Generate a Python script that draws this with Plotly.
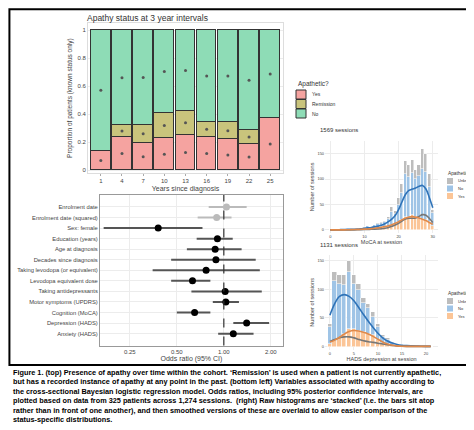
import numpy as np
import plotly.graph_objects as go

# --- top: apathy status at 3 year intervals
years = [1, 4, 7, 10, 13, 16, 19, 22, 25]
prop_yes = [0.14, 0.24, 0.195, 0.23, 0.255, 0.24, 0.22, 0.19, 0.375]
prop_rem = [0.0, 0.08, 0.13, 0.18, 0.17, 0.105, 0.125, 0.095, 0.0]
prop_no = [1 - a - b for a, b in zip(prop_yes, prop_rem)]
bar_status = ["Yes", "Remission", "No"]

# --- bottom left: odds ratios
variables = ["Enrolment date", "Enrolment date (squared)", "Sex: female", "Education (years)",
             "Age at diagnosis", "Decades since diagnosis", "Taking levodopa (or equivalent)",
             "Levodopa equivalent dose", "Taking antidepressants", "Motor symptoms (UPDRS)",
             "Cognition (MoCA)", "Depression (HADS)", "Anxiety (HADS)"]
or_mid = [1.04, 0.90, 0.38, 0.91, 0.88, 0.89, 0.77, 0.63, 1.02, 1.03, 0.65, 1.40, 1.15]
or_lo = [0.80, 0.68, 0.17, 0.67, 0.58, 0.46, 0.35, 0.46, 0.62, 0.85, 0.50, 1.15, 0.92]
or_hi = [1.40, 1.12, 0.73, 1.14, 1.30, 1.60, 1.70, 0.82, 1.75, 1.25, 0.82, 1.95, 1.55]
is_nuisance = [True, True] + [False] * 11

# --- right: histograms
moca = list(range(0, 31))
moca_yes = [0, 0, 0, 0, 0, 0, 0, 1, 1, 1, 1, 2, 2, 3, 4, 5, 6, 8, 10, 12, 15, 20, 25, 25, 30,
            25, 22, 22, 20, 15, 8]
moca_no = [0, 0, 0, 0, 1, 1, 1, 1, 1, 2, 3, 5, 3, 6, 8, 8, 10, 14, 25, 20, 35, 52, 85, 80, 82,
           75, 85, 98, 95, 70, 25]
moca_unk = [0, 0, 0, 0, 0, 0, 0, 0, 0, 0, 1, 1, 1, 1, 2, 2, 2, 3, 10, 6, 12, 18, 25, 23, 25,
            18, 21, 40, 35, 25, 7]
hads = list(range(0, 22))
hads_yes = [5, 10, 15, 22, 30, 30, 28, 25, 22, 20, 12, 6, 3, 1, 1, 0, 0, 0, 0, 0, 0, 0]
hads_no = [30, 105, 95, 85, 100, 80, 70, 52, 45, 32, 22, 11, 9, 5, 2, 2, 1, 1, 1, 0, 0, 0]
hads_unk = [5, 15, 15, 18, 20, 15, 12, 8, 8, 8, 6, 3, 3, 2, 0, 0, 0, 0, 0, 0, 0, 0]
hist_status = ["Unknown", "No", "Yes"]

caption_lines = [
    "Figure 1. (top) Presence of apathy over time within the cohort. ‘Remission’ is used when a patient is not currently apathetic,",
    "but has a recorded instance of apathy at any point in the past. (bottom left) Variables associated with apathy according to",
    "the cross-sectional Bayesian logistic regression model. Odds ratios, including 95% posterior confidence intervals, are",
    "plotted based on data from 325 patients across 1,274 sessions.  (right) Raw histograms are ‘stacked’ (i.e. the bars sit atop",
    "rather than in front of one another), and then smoothed versions of these are overlaid to allow easier comparison of the",
    "status-specific distributions.",
]

B_COL = {"Yes": "#f5a3a0", "Remission": "#c9c47c", "No": "#8edcb6"}
H_COL = {"Unknown": "#bdbdbd", "No": "#9fc4e6", "Yes": "#fbc597"}
TXT = "#444444"


def smooth(v, s=1.3):
    v = np.array(v, dtype=float)
    k = np.arange(-4, 5)
    w = np.exp(-0.5 * (k / s) ** 2)
    w /= w.sum()
    return np.convolve(np.pad(v, 4, mode="edge"), w, mode="valid")


def P(px, py):
    return px / 474, 1 - py / 430


fig = go.Figure()

for name, vals in zip(bar_status, (prop_yes, prop_rem, prop_no)):
    fig.add_bar(x=years, y=vals, name=name, marker=dict(color=B_COL[name], line=dict(color="#333333", width=1.2)),
                width=2.8, xaxis="x", yaxis="y", showlegend=False)

# dots at the middle of each segment
dx, dy = [], []
for i, yr in enumerate(years):
    base = 0
    for v in (prop_yes[i], prop_rem[i], prop_no[i]):
        if v > 0:
            dx.append(yr)
            dy.append(base + v / 2)
        base += v
fig.add_scatter(x=dx, y=dy, mode="markers", marker=dict(color="#555555", size=3),
                showlegend=False, xaxis="x", yaxis="y")

# forest plot
for i, var in enumerate(variables):
    lc = "#bbbbbb" if is_nuisance[i] else "#555555"
    fig.add_scatter(x=[or_lo[i], or_hi[i]], y=[var, var], mode="lines", line=dict(color=lc, width=2),
                    showlegend=False, xaxis="x2", yaxis="y2")
fig.add_scatter(x=or_mid, y=variables, mode="markers",
                marker=dict(color=["#bbbbbb" if n else "black" for n in is_nuisance], size=7),
                showlegend=False, xaxis="x2", yaxis="y2")

# histograms
for (xs, ys, ax, ay) in [(moca, (moca_unk, moca_no, moca_yes), "x3", "y3"),
                         (hads, (hads_unk, hads_no, hads_yes), "x4", "y4")]:
    unk, no, yes = ys
    for name, vals in [("Yes", yes), ("No", no), ("Unknown", unk)]:
        fig.add_bar(x=xs, y=vals, name=name, marker=dict(color=H_COL[name], line=dict(color="white", width=0.5)),
                    width=0.9, xaxis=ax, yaxis=ay, showlegend=False)
    for vals, col in [(no, "#2f73b8"), (unk, "#777777"), (yes, "#e0894a")]:
        fig.add_scatter(x=xs, y=smooth(vals), mode="lines", line=dict(color=col, width=1.6, shape="spline"),
                        showlegend=False, xaxis=ax, yaxis=ay)

shapes = [
    dict(type="line", xref="x2", yref="y2 domain", x0=1, x1=1, y0=0, y1=1,
         line=dict(color="#333333", width=1.2, dash="dash")),
    dict(type="rect", xref="paper", yref="paper", x0=0.003, x1=0.997, y0=1 - 357 / 430, y1=0.997,
         line=dict(color="black", width=2)),
]
annotations = []

# hand-made legend for the status bars
x0, y0 = P(288, 76)
annotations.append(dict(text="Apathetic?", x=x0, y=y0, xref="paper", yref="paper", xanchor="left",
                        yanchor="middle", showarrow=False, font=dict(size=6.5, color="#333")))
for j, name in enumerate(bar_status):
    top = 82 + j * 9.5
    a, b = P(288, top)
    c, d = P(298, top + 9)
    shapes.append(dict(type="rect", xref="paper", yref="paper", x0=a, x1=c, y0=d, y1=b,
                       fillcolor=B_COL[name], line=dict(color="#333333", width=1)))
    lx, ly = P(302, top + 4.5)
    annotations.append(dict(text=name, x=lx, y=ly, xref="paper", yref="paper", xanchor="left",
                            yanchor="middle", showarrow=False, font=dict(size=5, color="#333")))

# small hand-made legends for the histograms
for top in (165, 285):
    tx, ty = P(438, top)
    annotations.append(dict(text="Apathetic", x=tx, y=ty, xref="paper", yref="paper",
                            xanchor="left", yanchor="middle", showarrow=False, font=dict(size=4.8, color="#333")))
    for j, name in enumerate(hist_status):
        yc = top + 8 + j * 7.5
        a, b = P(439, yc - 3)
        c, d = P(445, yc + 3)
        shapes.append(dict(type="rect", xref="paper", yref="paper", x0=a, x1=c, y0=d, y1=b,
                           fillcolor=H_COL[name], line=dict(width=0)))
        lx, ly = P(448, yc)
        annotations.append(dict(text=name, x=lx, y=ly, xref="paper", yref="paper",
                                xanchor="left", yanchor="middle", showarrow=False,
                                font=dict(size=4, color="#333")))

annotations += [
    dict(text="Apathy status at 3 year intervals", x=0.163, y=0.993, xref="paper", yref="paper",
         xanchor="left", yanchor="top", showarrow=False, font=dict(size=8.5, color="#333")),
    dict(text="1569 sessions", x=0.655, y=0.705, xref="paper", yref="paper", xanchor="left",
         yanchor="bottom", showarrow=False, font=dict(size=6, color="#333")),
    dict(text="1131 sessions", x=0.655, y=0.437, xref="paper", yref="paper", xanchor="left",
         yanchor="bottom", showarrow=False, font=dict(size=6, color="#333")),
    dict(text="<br>".join("<b>" + s + "</b>" for s in caption_lines),
         x=0.006, y=1 - 358 / 430, xref="paper", yref="paper", xanchor="left",
         yanchor="top", align="left", showarrow=False,
         font=dict(size=7.3, color="black", family="Liberation Sans, Arial")),
]

tick = dict(size=6, color=TXT)
grid = "#ececec"
fig.update_layout(
    width=474, height=430, margin=dict(l=0, r=0, t=0, b=0),
    paper_bgcolor="white", plot_bgcolor="white", barmode="stack", bargap=0, showlegend=False,
    font=dict(family="Liberation Sans, Arial", color=TXT),
    xaxis=dict(domain=[0.169, 0.580], tickvals=years, tickfont=tick, showgrid=False, range=[-0.8, 26.8],
               title=dict(text="Years since diagnosis", font=dict(size=7), standoff=2), anchor="y",
               showline=True, linecolor="#dddddd", mirror=True, ticks="outside", ticklen=2, tickcolor="#aaa"),
    yaxis=dict(domain=[0.616, 0.965], range=[-0.02, 1.05], tickvals=[0, 0.2, 0.4, 0.6, 0.8, 1],
               ticktext=["0", "0.2", "0.4", "0.6", "0.8", "1"], tickfont=tick, gridcolor=grid, anchor="x",
               title=dict(text="Proportion of patients (known status only)", font=dict(size=6.5), standoff=4),
               showline=True, linecolor="#dddddd", mirror=True, zeroline=False),
    xaxis2=dict(domain=[0.194, 0.580], type="log", range=[np.log10(0.161), np.log10(2.39)], anchor="y2",
                tickvals=[0.25, 0.5, 1, 2], ticktext=["0.25", "0.50", "1.00", "2.00"], tickfont=tick,
                gridcolor=grid, showline=True, linecolor="#999999", mirror=True,
                title=dict(text="Odds ratio (95% CI)", font=dict(size=7), standoff=1)),
    yaxis2=dict(domain=[0.215, 0.565], autorange="reversed", tickfont=dict(size=5.8, color=TXT),
                gridcolor=grid, showline=True, linecolor="#999999", mirror=True, anchor="x2"),
    xaxis3=dict(domain=[0.669, 0.907], range=[-1.5, 31.5], tickvals=[0, 10, 20, 30], anchor="y3",
                tickfont=dict(size=4), gridcolor=grid, zeroline=False,
                title=dict(text="MoCA at session", font=dict(size=5.5), standoff=1)),
    yaxis3=dict(domain=[0.477, 0.691], range=[-6, 175], tickvals=[0, 50, 100, 150], anchor="x3",
                tickfont=dict(size=4), gridcolor=grid, zeroline=False,
                title=dict(text="Number of sessions", font=dict(size=5.5), standoff=2)),
    xaxis4=dict(domain=[0.669, 0.907], range=[-1, 22.5], tickvals=[0, 5, 10, 15, 20], anchor="y4",
                tickfont=dict(size=4), gridcolor=grid, zeroline=False,
                title=dict(text="HADS depression at session", font=dict(size=5.5), standoff=1)),
    yaxis4=dict(domain=[0.205, 0.426], range=[-6, 160], tickvals=[0, 50, 100, 150], anchor="x4",
                tickfont=dict(size=4), gridcolor=grid, zeroline=False,
                title=dict(text="Number of sessions", font=dict(size=5.5), standoff=2)),
    shapes=shapes,
    annotations=annotations,
)

fig.write_html("out.html")
